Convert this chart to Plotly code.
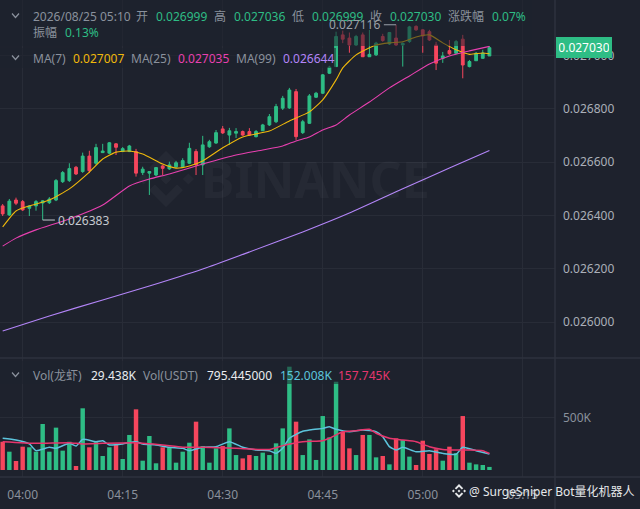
import plotly.graph_objects as go
import pandas as pd

# ---------------- data ----------------
start_time = "2026-08-25 03:57"

opens = [0.026436, 0.026402, 0.026458, 0.026452, 0.026427, 0.026436, 0.026447, 0.026448, 0.026458, 0.026527,
         0.026531, 0.026581, 0.026565, 0.026623, 0.026596, 0.026636, 0.026634, 0.026669, 0.026640, 0.026640,
         0.026640, 0.026561, 0.026559, 0.026552, 0.026586, 0.026575, 0.026583, 0.026583, 0.026596, 0.026640,
         0.026590, 0.026658, 0.026672, 0.026725, 0.026702, 0.026709, 0.026715, 0.026715, 0.026696, 0.026718,
         0.026740, 0.026752, 0.026803, 0.026804, 0.026865, 0.026711, 0.026746, 0.026844, 0.026859, 0.026934,
         0.026959, 0.027078, 0.027066, 0.027040, 0.027078, 0.026996, 0.027003, 0.027072, 0.027044, 0.027066,
         0.027040, 0.027053, 0.027110, 0.027097, 0.027090, 0.027040, 0.026990, 0.027019, 0.027009, 0.027062,
         0.026959, 0.026981, 0.026990, 0.026999]

highs = [0.026443, 0.026462, 0.026467, 0.026458, 0.026439, 0.026458, 0.026458, 0.026469, 0.026537, 0.026567,
         0.026596, 0.026586, 0.026636, 0.026643, 0.026669, 0.026669, 0.026676, 0.026672, 0.026657, 0.026665,
         0.026650, 0.026583, 0.026567, 0.026582, 0.026590, 0.026602, 0.026605, 0.026615, 0.026673, 0.026649,
         0.026699, 0.026684, 0.026721, 0.026736, 0.026729, 0.026728, 0.026719, 0.026728, 0.026721, 0.026744,
         0.026781, 0.026819, 0.026849, 0.026879, 0.026875, 0.026759, 0.026856, 0.026864, 0.026931, 0.026962,
         0.027090, 0.027094, 0.027087, 0.027078, 0.027087, 0.027097, 0.027052, 0.027082, 0.027089, 0.027116,
         0.027050, 0.027112, 0.027114, 0.027100, 0.027097, 0.027052, 0.027014, 0.027059, 0.027059, 0.027078,
         0.026984, 0.027014, 0.027022, 0.027036]

lows = [0.026398, 0.026398, 0.026439, 0.026417, 0.026398, 0.026418, 0.026383, 0.026443, 0.026454, 0.026522,
        0.026526, 0.026552, 0.026560, 0.026559, 0.026590, 0.026635, 0.026631, 0.026627, 0.026638, 0.026638,
        0.026546, 0.026552, 0.026477, 0.026548, 0.026552, 0.026571, 0.026578, 0.026582, 0.026593, 0.026552,
        0.026552, 0.026654, 0.026669, 0.026706, 0.026665, 0.026691, 0.026699, 0.026699, 0.026693, 0.026717,
        0.026736, 0.026747, 0.026796, 0.026800, 0.026684, 0.026706, 0.026744, 0.026841, 0.026856, 0.026931,
        0.026958, 0.027047, 0.027011, 0.027037, 0.026995, 0.026995, 0.026999, 0.027052, 0.027040, 0.027037,
        0.026959, 0.027048, 0.027093, 0.027011, 0.027055, 0.026946, 0.026973, 0.027003, 0.027007, 0.026915,
        0.026956, 0.026980, 0.026988, 0.026999]

closes = [0.026406, 0.026454, 0.026446, 0.026421, 0.026436, 0.026452, 0.026455, 0.026462, 0.026531, 0.026561,
          0.026576, 0.026556, 0.026623, 0.026568, 0.026655, 0.026642, 0.026673, 0.026656, 0.026651, 0.026661,
          0.026559, 0.026574, 0.026565, 0.026580, 0.026577, 0.026590, 0.026598, 0.026606, 0.026652, 0.026590,
          0.026665, 0.026677, 0.026711, 0.026710, 0.026718, 0.026715, 0.026702, 0.026702, 0.026715, 0.026740,
          0.026771, 0.026809, 0.026840, 0.026871, 0.026696, 0.026752, 0.026849, 0.026859, 0.026928, 0.026957,
          0.027072, 0.027062, 0.027040, 0.027072, 0.026996, 0.027005, 0.027047, 0.027057, 0.027087, 0.027040,
          0.027046, 0.027108, 0.027097, 0.027074, 0.027059, 0.026972, 0.026999, 0.027007, 0.027053, 0.026965,
          0.026978, 0.027009, 0.027010, 0.027030]

volumes = [270000, 175000, 86000, 223000, 217000, 175000, 440000, 175000, 405000, 185000,
           270000, 38000, 590000, 217000, 270000, 134000, 217000, 239000, 105000, 335000,
           580000, 89000, 325000, 64000, 217000, 217000, 70000, 175000, 261000, 462000,
           229000, 70000, 207000, 229000, 398000, 143000, 111000, 143000, 134000, 166000,
           143000, 255000, 398000, 988000, 462000, 143000, 293000, 96000, 516000, 312000,
           844000, 366000, 207000, 143000, 335000, 335000, 121000, 134000, 54000, 303000,
           287000, 128000, 48000, 280000, 153000, 198000, 89000, 223000, 160000, 516000,
           70000, 54000, 48000, 29438]

# moving averages (candle index, value)
ma7_idx = [0, 2, 4, 7, 10, 13, 15, 17, 19, 21, 24, 26, 28, 30, 33, 36, 40, 43, 46, 48,
           50, 51, 53, 56, 58, 60, 62, 64, 66, 68, 70, 72, 73]
ma7_val = [0.026357, 0.026417, 0.026436, 0.026458, 0.026500, 0.026563, 0.026612, 0.026638, 0.026642, 0.026631,
           0.026593, 0.026578, 0.026586, 0.026605, 0.026654, 0.026695, 0.026717, 0.026755, 0.026789, 0.026834,
           0.026909, 0.026954, 0.027003, 0.027040, 0.027048, 0.027052, 0.027070, 0.027078, 0.027048, 0.027022,
           0.027005, 0.027010, 0.027007]

ma25_idx = [0, 2, 5, 10, 15, 19, 22, 25, 30, 35, 39, 42, 44, 46, 48, 50, 52, 55, 58, 61, 64, 67, 70, 73]
ma25_val = [0.026285, 0.026315, 0.026346, 0.026387, 0.026439, 0.026511, 0.026537, 0.026556, 0.026593, 0.026627,
            0.026646, 0.026661, 0.026680, 0.026695, 0.026721, 0.026740, 0.026777, 0.026826, 0.026879, 0.026924,
            0.026969, 0.026999, 0.027018, 0.027035]

ma99_idx = [0, 7, 15, 22, 30, 37, 45, 52, 60, 67, 73]
ma99_val = [0.025966, 0.026023, 0.026083, 0.026135, 0.026199, 0.026263, 0.026338, 0.026409, 0.026500, 0.026578, 0.026644]

vma5_idx = [0, 2, 4, 5, 7, 8, 10, 11, 12, 14, 15, 16, 18, 20, 21, 23, 25, 27, 28, 30,
            32, 34, 36, 38, 40, 41, 42, 43, 44, 45, 46, 48, 49, 50, 52, 54, 56, 57, 58, 59,
            60, 62, 64, 66, 68, 69, 71, 73]
vma5_val = [303000, 287000, 249000, 185000, 217000, 207000, 255000, 229000, 293000, 271000,
            280000, 239000, 249000, 271000, 249000, 239000, 217000, 207000, 185000, 217000,
            223000, 271000, 217000, 191000, 185000, 159000, 207000, 303000, 340000, 370000,
            382000, 398000, 414000, 389000, 366000, 382000, 366000, 319000, 223000, 191000,
            217000, 175000, 185000, 159000, 150000, 217000, 185000, 152008]

vma10_idx = [0, 5, 10, 12, 15, 20, 24, 27, 30, 35, 40, 42, 45, 48, 49, 51, 53, 55, 56, 58,
             60, 62, 64, 66, 68, 70, 72, 73]
vma10_val = [271000, 255000, 261000, 249000, 255000, 261000, 239000, 217000, 217000, 207000,
             197000, 233000, 271000, 280000, 303000, 366000, 376000, 389000, 351000, 303000,
             287000, 271000, 223000, 197000, 191000, 191000, 185000, 157745]

vol_usdt_text = "795.445000"

tick_times = ["2026-08-25 04:00", "2026-08-25 04:15", "2026-08-25 04:30",
              "2026-08-25 04:45", "2026-08-25 05:00", "2026-08-25 05:15"]
tick_labels = ["04:00", "04:15", "04:30", "04:45", "05:00", "05:15"]
price_tick_labels = ["0.026000", "0.026200", "0.026400", "0.026600", "0.026800", "0.027000"]
vol_tick_labels = ["500K"]
vol_tick_values = [500000]

# ---------------- style ----------------
BG = "#1e222d"
GRID = "#282c37"
SEP = "#2e323e"
GREEN = "#2ebd85"
RED = "#f6465d"
YEL = "#f0b90b"
PINK = "#e840b0"
PURP = "#b385f8"
CYAN = "#5cc4dc"
VPINK = "#e6366d"
GRAY = "#8a919c"
WHITE = "#eaecef"
FONT = "Noto Sans, Noto Sans CJK SC, sans-serif"

W, H = 640, 509
M_L, M_R, M_T, M_B = 0, 85, 0, 32
PW = W - M_L - M_R
PH = H - M_T - M_B
SPLIT = 358  # pixel row where price pane ends


def px(x):
    return x / PW


def py(y):
    return (PH - y) / PH


def path_px(points, close=False):
    s = "M " + " L ".join(f"{px(a):.5f},{py(b):.5f}" for a, b in points)
    return s + (" Z" if close else "")


times = pd.date_range(start_time, periods=len(opens), freq="min")
vol_colors = [GREEN if c >= o else RED for o, c in zip(opens, closes)]

fig = go.Figure()

fig.add_trace(go.Candlestick(
    x=times, open=opens, high=highs, low=lows, close=closes,
    increasing=dict(line=dict(color=GREEN, width=1), fillcolor=GREEN),
    decreasing=dict(line=dict(color=RED, width=1), fillcolor=RED),
    whiskerwidth=0, xaxis="x", yaxis="y", hoverinfo="skip", showlegend=False))

for idx, val, col in [(ma7_idx, ma7_val, YEL), (ma25_idx, ma25_val, PINK), (ma99_idx, ma99_val, PURP)]:
    fig.add_trace(go.Scatter(x=[times[i] for i in idx], y=val, mode="lines",
                             line=dict(color=col, width=1.1, shape="spline", smoothing=0.5),
                             xaxis="x", yaxis="y", hoverinfo="skip", showlegend=False))

fig.add_trace(go.Bar(x=times, y=volumes, marker=dict(color=vol_colors, line=dict(width=0)),
                     width=40000, xaxis="x2", yaxis="y2", hoverinfo="skip", showlegend=False))

for idx, val, col in [(vma5_idx, vma5_val, CYAN), (vma10_idx, vma10_val, VPINK)]:
    fig.add_trace(go.Scatter(x=[times[i] for i in idx], y=val, mode="lines",
                             line=dict(color=col, width=1.5, shape="spline", smoothing=0.5),
                             xaxis="x2", yaxis="y2", hoverinfo="skip", showlegend=False))

# axis ranges (pixel calibration)
x_range = ["2026-08-25 03:56:36", "2026-08-25 05:19:50"]
price_range = [0.025865, 0.027209]
vol_range = [-67000, 1071000]
split_dom = (PH - SPLIT) / PH

axis_common = dict(showline=False, zeroline=False, gridcolor=GRID, gridwidth=1, fixedrange=True)

fig.update_layout(
    width=W, height=H,
    margin=dict(l=M_L, r=M_R, t=M_T, b=M_B, pad=0),
    paper_bgcolor=BG, plot_bgcolor=BG,
    font=dict(family=FONT, size=12, color=GRAY),
    boxgap=0.4,
    bargap=0.3,
    showlegend=False,
    hovermode=False,
    xaxis=dict(domain=[0, 1], anchor="y", type="date", range=x_range,
               tickvals=tick_times, ticktext=tick_labels, showticklabels=False,
               rangeslider=dict(visible=False), showgrid=True, **axis_common),
    xaxis2=dict(domain=[0, 1], anchor="y2", type="date", range=x_range, matches="x",
                tickvals=tick_times, ticktext=tick_labels, showticklabels=True,
                tickfont=dict(size=12, color=GRAY, family=FONT), ticks="",
                ticklabelstandoff=9, showgrid=True, **axis_common),
    yaxis=dict(domain=[split_dom, 1], anchor="x", side="right", range=price_range,
               tickvals=[float(t) for t in price_tick_labels], ticktext=price_tick_labels,
               tickfont=dict(size=12, color="#aab0b9", family=FONT), ticks="",
               ticklabelstandoff=7, showgrid=True, **axis_common),
    yaxis2=dict(domain=[0, split_dom], anchor="x2", side="right", range=vol_range,
                tickvals=vol_tick_values, ticktext=vol_tick_labels,
                tickfont=dict(size=12, color=GRAY, family=FONT), ticks="",
                ticklabelstandoff=7, showgrid=True, **axis_common),
)

shapes = []
# pane separators and right border
shapes.append(dict(type="line", xref="paper", yref="paper", x0=0, x1=W / PW, y0=py(SPLIT), y1=py(SPLIT),
                   line=dict(color=SEP, width=1.5)))
shapes.append(dict(type="line", xref="paper", yref="paper", x0=0, x1=W / PW, y0=py(PH), y1=py(PH),
                   line=dict(color=SEP, width=1.5)))
shapes.append(dict(type="line", xref="paper", yref="paper", x0=1, x1=1, y0=py(H), y1=py(0),
                   line=dict(color=SEP, width=1.5)))

# translucent legend backgrounds (dim what is drawn under them)
for (x0, y0, x1, y1) in [(0, 0, 532, 46), (0, 48, 336, 68), (0, 361, 390, 384)]:
    shapes.append(dict(type="rect", xref="paper", yref="paper", x0=px(x0), x1=px(x1), y0=py(y1), y1=py(y0),
                       fillcolor="rgba(30,34,45,0.55)", line=dict(width=0), layer="above"))

# chevrons in front of legend rows
for cy in [16, 58, 375]:
    shapes.append(dict(type="path", xref="paper", yref="paper",
                       path=path_px([(12, cy - 2.5), (15.5, cy + 1.5), (19, cy - 2.5)]),
                       line=dict(color=GRAY, width=1.2), layer="above"))


def logo_paths(cx, cy, r):
    pts = [
        [(0, -0.2), (0.2, 0), (0, 0.2), (-0.2, 0)],
        [(-0.8, -0.2), (-0.6, 0), (-0.8, 0.2), (-1.0, 0)],
        [(0.8, -0.2), (1.0, 0), (0.8, 0.2), (0.6, 0)],
        [(0, -1), (0.6, -0.4), (0.4, -0.2), (0, -0.6), (-0.4, -0.2), (-0.6, -0.4)],
        [(0, 1), (0.6, 0.4), (0.4, 0.2), (0, 0.6), (-0.4, 0.2), (-0.6, 0.4)],
    ]
    return [path_px([(cx + a * r, cy + b * r) for a, b in poly], close=True) for poly in pts]


for p in logo_paths(166, 179, 28):
    shapes.append(dict(type="path", xref="paper", yref="paper", path=p,
                       fillcolor="rgba(255,255,255,0.035)", line=dict(width=0), layer="below"))
for p in logo_paths(459, 491, 7):
    shapes.append(dict(type="path", xref="paper", yref="paper", path=p,
                       fillcolor="#e6e8ea", line=dict(width=0), layer="above"))

# high / low markers derived from the data
i_hi = max(range(len(highs)), key=lambda k: highs[k])
i_lo = min(range(len(lows)), key=lambda k: lows[k])
shapes.append(dict(type="line", xref="x", yref="y", x0=times[i_hi] - pd.Timedelta(seconds=110), x1=times[i_hi],
                   y0=highs[i_hi], y1=highs[i_hi], line=dict(color="#9aa0a8", width=1)))
shapes.append(dict(type="line", xref="x", yref="y", x0=times[i_lo], x1=times[i_lo] + pd.Timedelta(seconds=110),
                   y0=lows[i_lo], y1=lows[i_lo], line=dict(color="#c5c9cf", width=1)))

annotations = []


def txt(x, y, s, color, size=12, **kw):
    d = dict(xref="paper", yref="paper", x=px(x), y=py(y), text=s, showarrow=False,
             xanchor="left", yanchor="middle", font=dict(family=FONT, size=size, color=color))
    d.update(kw)
    annotations.append(d)


o, h, l, c = opens[-1], highs[-1], lows[-1], closes[-1]
row1 = [(31, "2026/08/25 05:10", GRAY), (134, "开", GRAY), (154, f"{o:.6f}", GREEN),
        (212, "高", GRAY), (232, f"{h:.6f}", GREEN), (290, "低", GRAY), (310, f"{l:.6f}", GREEN),
        (368, "收", GRAY), (388, f"{c:.6f}", GREEN), (446, "涨跌幅", GRAY), (490, "0.07%", GREEN)]
for x, s, col in row1:
    txt(x, 16, s, col)
txt(31, 33, "振幅", GRAY)
txt(63, 33, "0.13%", GREEN)

row_ma = [(31, "MA(7)", GRAY), (71, f"{ma7_val[-1]:.6f}", YEL), (129, "MA(25)", GRAY),
          (176, f"{ma25_val[-1]:.6f}", PINK), (234, "MA(99)", GRAY), (281, f"{ma99_val[-1]:.6f}", PURP)]
for x, s, col in row_ma:
    txt(x, 58, s, col)

row_vol = [(31, "Vol(龙虾)", GRAY), (89, f"{volumes[-1] / 1000:.3f}K", WHITE), (141, "Vol(USDT)", GRAY),
           (205, vol_usdt_text, WHITE), (278, f"{vma5_val[-1] / 1000:.3f}K", CYAN),
           (336, f"{vma10_val[-1] / 1000:.3f}K", VPINK)]
for x, s, col in row_vol:
    txt(x, 375, s, col)

# high / low labels
annotations.append(dict(xref="x", yref="y", x=times[i_hi] - pd.Timedelta(seconds=124), y=highs[i_hi],
                        text=f"{highs[i_hi]:.6f}", showarrow=False, xanchor="right", yanchor="middle",
                        font=dict(family=FONT, size=12, color="#9aa0a8")))
annotations.append(dict(xref="x", yref="y", x=times[i_lo] + pd.Timedelta(seconds=124), y=lows[i_lo],
                        text=f"{lows[i_lo]:.6f}", showarrow=False, xanchor="left", yanchor="middle",
                        font=dict(family=FONT, size=12, color="#c5c9cf")))

# last price tag
annotations.append(dict(xref="paper", yref="y", x=px(556), y=closes[-1], text=f"{closes[-1]:.6f}",
                        showarrow=False, xanchor="left", yanchor="middle", bgcolor=GREEN,
                        bordercolor=GREEN, borderwidth=0, borderpad=3, width=50, height=15,
                        font=dict(family=FONT, size=12, color="#ffffff")))

# watermarks
txt(199, 179, "<b>BINANCE</b>", "rgba(255,255,255,0.035)", size=50)
txt(467, 491, "@ SurgeSniper Bot量化机器人", "#e6e8ea", size=12)

fig.update_layout(shapes=shapes, annotations=annotations)

fig.write_html("out.html", config={"displayModeBar": False, "staticPlot": True},
               post_script="document.body.style.margin='0';document.body.style.background='#1e222d';")
